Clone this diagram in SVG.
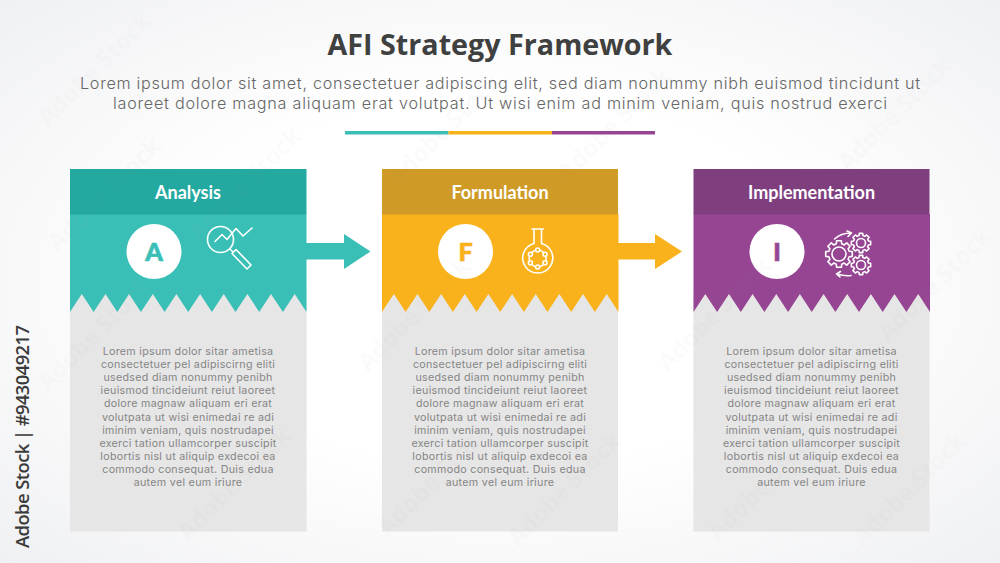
<svg xmlns="http://www.w3.org/2000/svg" xmlns:xlink="http://www.w3.org/1999/xlink" width="1000" height="563" viewBox="0 0 1000 563">
<style>
.title{font:700 28.7px "Open Sans",sans-serif;fill:#3f4040;text-anchor:middle}
.sub{font:300 16.2px Inter,sans-serif;fill:#666;text-anchor:middle}
.head{font:700 18px Lato,sans-serif;fill:#fff;text-anchor:middle}
.letter{font:900 25px Lato,sans-serif;text-anchor:middle;stroke-width:.7}
.body{font:400 10.7px Inter,sans-serif;letter-spacing:.3px;fill:#858585;text-anchor:middle}
.panel{fill:#e6e6e6}
.ico{fill:none;stroke:#fff;stroke-width:1.6;stroke-linejoin:round;stroke-linecap:round}
.nss{vector-effect:non-scaling-stroke}
.wm{font:700 24px "Open Sans",sans-serif;fill:#9a9a9a;fill-opacity:.055;text-anchor:middle}
.stock{font:600 18.4px "Open Sans",sans-serif;fill:#3a3a3a}
</style>
<defs>
<radialGradient id="bg" cx="50%" cy="50%" r="72%">
<stop offset="0.45" stop-color="#ffffff"/><stop offset="1" stop-color="#eff0f2"/>
</radialGradient>
<polygon id="saw" points="0,-98 236.500,-98 236.500,0 224.700,-18 212.900,0 201,-18 189.200,0 177.400,-18 165.500,0 153.700,-18 141.900,0 130.100,-18 118.200,0 106.400,-18 94.600,0 82.800,-18 70.900,0 59.100,-18 47.300,0 35.500,-18 23.600,0 11.800,-18 0,0"/>
<polygon id="gear" class="nss" points="75.300,-20.200 98.500,-17.400 98.500,17.400 75.300,20.200 67.500,39 82,57.300 57.300,82 39,67.500 20.200,75.300 17.400,98.500 -17.400,98.500 -20.200,75.300 -39,67.500 -57.300,82 -82,57.300 -67.500,39 -75.300,20.200 -98.500,17.400 -98.500,-17.400 -75.300,-20.200 -67.500,-39 -82,-57.300 -57.300,-82 -39,-67.500 -20.200,-75.300 -17.400,-98.500 17.400,-98.500 20.200,-75.300 39,-67.500 57.300,-82 82,-57.300 67.500,-39"/>
<g id="lorem">
<text class="body" y="0">Lorem ipsum dolor sitar ametisa</text>
<text class="body" y="13.100">consectetuer pel adipiscirng eliti</text>
<text class="body" y="26.200">usedsed diam nonummy penibh</text>
<text class="body" y="39.300">ieuismod tincideiunt reiut laoreet</text>
<text class="body" y="52.400">dolore magnaw aliquam eri erat</text>
<text class="body" y="65.500">volutpata ut wisi enimedai re adi</text>
<text class="body" y="78.600">iminim veniam, quis nostrudapei</text>
<text class="body" y="91.700">exerci tation ullamcorper suscipit</text>
<text class="body" y="104.800">lobortis nisl ut aliquip exdecoi ea</text>
<text class="body" y="117.900">commodo consequat. Duis edua</text>
<text class="body" y="131">autem vel eum iriure</text>
</g>
</defs>
<rect id="background" width="1000" height="563" fill="url(#bg)"/>

<g id="heading">
<text class="title" x="500" y="55">AFI Strategy Framework</text>
<text class="sub" x="500" y="89" textLength="840" lengthAdjust="spacing">Lorem ipsum dolor sit amet, consectetuer adipiscing elit, sed diam nonummy nibh euismod tincidunt ut</text>
<text class="sub" x="500" y="109" textLength="774" lengthAdjust="spacing">laoreet dolore magna aliquam erat volutpat. Ut wisi enim ad minim veniam, quis nostrud exerci</text>
<rect x="345" y="131" width="103.500" height="3.500" fill="#3abfb6"/>
<rect x="448.500" y="131" width="103.500" height="3.500" fill="#f9b21b"/>
<rect x="552" y="131" width="103" height="3.500" fill="#964593"/>
</g>

<g id="connectors">
<polygon fill="#3abfb6" points="306,243 344,243 344,234 370.500,251.500 344,269 344,259.500 306,259.500"/>
<polygon fill="#f9b21b" points="618,243 655,243 655,234 682,251.500 655,269 655,259.500 618,259.500"/>
</g>

<g id="node-analysis">
<rect class="panel" x="70" y="290" width="236.500" height="241.500"/>
<use href="#saw" transform="translate(70,312)" fill="#3abfb6"/>
<rect x="70" y="169" width="236.500" height="45.500" fill="#24a9a0"/>
<text class="head" x="188" y="198.500">Analysis</text>
<circle cx="154" cy="251.500" r="27.500" fill="#fff"/>
<text class="letter" x="154" y="260.500" fill="#3abfb6" stroke="#3abfb6">A</text>
<g class="ico">
<circle cx="220.500" cy="239.500" r="13"/>
<polyline points="215,241.500 222,234.500 227,239.500 236,228.500 243,236 252,228"/>
<path d="M229.800,248.800 L233,252"/>
<polygon points="232,253.500 236,249.500 251,265 247,269"/>
</g>
<use href="#lorem" x="188" y="355"/>
</g>

<g id="node-formulation">
<rect class="panel" x="382" y="290" width="236" height="241.500"/>
<use href="#saw" transform="translate(382,312)" fill="#f9b21b"/>
<rect x="382" y="169" width="236" height="45.500" fill="#cf9a26"/>
<text class="head" x="500" y="198.500">Formulation</text>
<circle cx="465.500" cy="251.500" r="27.500" fill="#fff"/>
<text class="letter" x="465.500" y="260.500" fill="#f9b21b" stroke="#f9b21b">F</text>
<g class="ico">
<path d="M532,229 H543.500 M534,229 V243.500 A15,15 0 1 0 541.500,243.500 V229"/>
<circle cx="537.700" cy="258.500" r="8.500"/>
<circle cx="537.700" cy="250" r="2" fill="#f9b21b"/>
<circle cx="545" cy="254.300" r="2" fill="#f9b21b"/>
<circle cx="545" cy="262.700" r="2" fill="#f9b21b"/>
<circle cx="537.700" cy="267" r="2" fill="#f9b21b"/>
<circle cx="530.400" cy="262.700" r="2" fill="#f9b21b"/>
<circle cx="530.400" cy="254.300" r="2" fill="#f9b21b"/>
</g>
<use href="#lorem" x="500" y="355"/>
</g>

<g id="node-implementation">
<rect class="panel" x="693.500" y="290" width="236" height="241.500"/>
<use href="#saw" transform="translate(693.500,312)" fill="#964593"/>
<rect x="693.500" y="169" width="236" height="45.500" fill="#7f3f7f"/>
<text class="head" x="811.500" y="198.500">Implementation</text>
<circle cx="777" cy="251.500" r="27.500" fill="#fff"/>
<text class="letter" x="777" y="260.500" fill="#964593" stroke="#964593">I</text>
<g class="ico">
<use href="#gear" transform="translate(839,254) scale(.135)"/>
<circle cx="839" cy="254" r="7"/>
<use href="#gear" transform="translate(861,243) scale(.098)"/>
<circle cx="861" cy="243" r="4.500"/>
<use href="#gear" transform="translate(861,265) scale(.098)"/>
<circle cx="861" cy="265" r="4.500"/>
<path d="M834.500,239 Q841,233 851,233 M847,231 L851.500,233 L848,236.500"/>
<path d="M851,275.500 Q845,276.500 837,274 M840.500,271.500 L836.500,274 L840,277"/>
</g>
<use href="#lorem" x="811.500" y="355"/>
</g>

<g id="watermarks">
<text class="wm" transform="translate(100,75) rotate(-45)">Adobe Stock</text>
<text class="wm" transform="translate(450,135) rotate(-45)">Adobe Stock</text>
<text class="wm" transform="translate(250,190) rotate(-45)">Adobe Stock</text>
<text class="wm" transform="translate(620,130) rotate(-45)">Adobe Stock</text>
<text class="wm" transform="translate(900,120) rotate(-45)">Adobe Stock</text>
<text class="wm" transform="translate(110,200) rotate(-45)">Adobe Stock</text>
<text class="wm" transform="translate(420,320) rotate(-45)">Adobe Stock</text>
<text class="wm" transform="translate(720,320) rotate(-45)">Adobe Stock</text>
<text class="wm" transform="translate(940,290) rotate(-45)">Adobe Stock</text>
<text class="wm" transform="translate(100,340) rotate(-45)">Adobe Stock</text>
<text class="wm" transform="translate(240,490) rotate(-45)">Adobe Stock</text>
<text class="wm" transform="translate(440,485) rotate(-45)">Adobe Stock</text>
<text class="wm" transform="translate(570,495) rotate(-45)">Adobe Stock</text>
<text class="wm" transform="translate(770,490) rotate(-45)">Adobe Stock</text>
<text class="wm" transform="translate(915,495) rotate(-45)">Adobe Stock</text>
</g>

<text class="stock" transform="translate(29,548) rotate(-90)" textLength="223" lengthAdjust="spacing">Adobe Stock | #943049217</text>
</svg>
